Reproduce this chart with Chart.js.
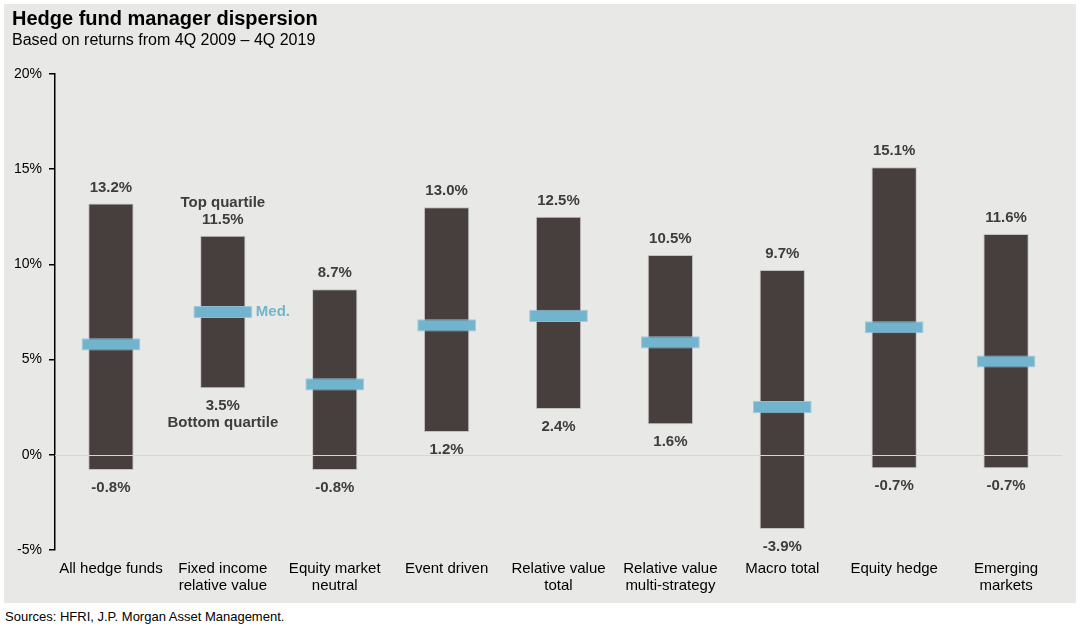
<!DOCTYPE html>
<html>
<head>
<meta charset="utf-8">
<script src="https://cdn.jsdelivr.net/npm/chart.js@4"></script>
<style>
  html, body { margin: 0; padding: 0; background: #fff; }
  body { width: 1080px; height: 629px; position: relative; font-family: "Liberation Sans", Arial, sans-serif; }
  #panel { position: absolute; left: 4px; top: 4px; width: 1072px; height: 599px; background: #e8e8e6; }
  #title { position: absolute; left: 8px; top: 3px; font-size: 20px; font-weight: bold; color: #000; }
  #subtitle { position: absolute; left: 8px; top: 27px; font-size: 16px; color: #000; }
  #src { position: absolute; left: 5px; top: 609px; font-size: 13px; color: #000; }
  canvas { position: absolute; left: 0; top: 0; }
</style>
</head>
<body>
<div id="panel">
  <canvas id="myChart" width="1072" height="599"></canvas>
  <div id="title">Hedge fund manager dispersion</div>
  <div id="subtitle">Based on returns from 4Q 2009 – 4Q 2019</div>
</div>
<div id="src">Sources: HFRI, J.P. Morgan Asset Management.</div>
<script>
const categories = [
  ['All hedge funds'],
  ['Fixed income', 'relative value'],
  ['Equity market', 'neutral'],
  ['Event driven'],
  ['Relative value', 'total'],
  ['Relative value', 'multi-strategy'],
  ['Macro total'],
  ['Equity hedge'],
  ['Emerging', 'markets']
]
const topQuartile = [13.2, 11.5, 8.7, 13.0, 12.5, 10.5, 9.7, 15.1, 11.6]
const bottomQuartile = [-0.8, 3.5, -0.8, 1.2, 2.4, 1.6, -3.9, -0.7, -0.7]
const median = [5.8, 7.5, 3.7, 6.8, 7.3, 5.9, 2.5, 6.7, 4.9]
const yTicks = [-5, 0, 5, 10, 15, 20]

const BAR = '#473f3e'
const MED = '#72b4cd'
const LABEL = '#3d3d3d'
const MED_HALF = 0.32

var ctx = document.getElementById('myChart').getContext('2d');

const labelsPlugin = {
  id: 'labels',
  afterDatasetsDraw(chart) {
    const c = chart.ctx
    const y = chart.scales.y
    // zero line over the bars
    c.save()
    c.strokeStyle = '#d6d6d4'
    c.lineWidth = 1
    const y0 = Math.round(y.getPixelForValue(0)) + 0.5
    c.beginPath()
    c.moveTo(chart.chartArea.left, y0)
    c.lineTo(chart.chartArea.right, y0)
    c.stroke()
    c.restore()
  },
  afterDraw(chart) {
    const c = chart.ctx
    const x = chart.scales.x
    const y = chart.scales.y
    c.save()
    c.font = 'bold 15px "Liberation Sans", Arial, sans-serif'
    c.fillStyle = LABEL
    c.textAlign = 'center'
    c.textBaseline = 'middle'
    topQuartile.forEach((v, i) => {
      const px = x.getPixelForValue(i)
      c.fillText(v.toFixed(1) + '%', px, y.getPixelForValue(v) - 16)
      c.fillText(bottomQuartile[i].toFixed(1) + '%', px, y.getPixelForValue(bottomQuartile[i]) + 18)
    })
    // annotations on the fixed income bar
    const fx = x.getPixelForValue(1)
    c.fillText('Top quartile', fx, y.getPixelForValue(topQuartile[1]) - 33)
    c.fillText('Bottom quartile', fx, y.getPixelForValue(bottomQuartile[1]) + 35)
    c.fillStyle = MED
    c.textAlign = 'left'
    c.fillText('Med.', fx + 33, y.getPixelForValue(median[1]))
    c.restore()
  }
}

new Chart(ctx, {
  type: 'bar',
  data: {
    labels: categories,
    datasets: [{
      label: 'Median',
      data: median.map(m => [m - MED_HALF, m + MED_HALF]),
      backgroundColor: MED,
      borderColor: 'rgba(150,200,220,0.9)',
      borderWidth: 1,
      borderSkipped: false,
      grouped: false,
      barPercentage: 0.525,
      categoryPercentage: 1,
      order: 0
    },
    {
      label: 'Quartile range',
      data: topQuartile.map((t, i) => [bottomQuartile[i], t]),
      backgroundColor: BAR,
      borderColor: '#c4c2c0',
      borderWidth: 1,
      borderSkipped: false,
      grouped: false,
      barPercentage: 0.405,
      categoryPercentage: 1,
      order: 1
    }]
  },
  options: {
    responsive: false,
    animation: false,
    devicePixelRatio: 1,
    layout: { padding: { top: 70, right: 14, left: 0, bottom: 0 } },
    plugins: {
      legend: { display: false },
      tooltip: { enabled: false }
    },
    scales: {
      x: {
        grid: { display: false, drawTicks: false },
        border: { display: false },
        ticks: {
          padding: 10,
          color: '#000',
          font: { family: '"Liberation Sans", Arial, sans-serif', size: 15, lineHeight: 1.15 },
          maxRotation: 0,
          autoSkip: false
        },
        afterFit(scale) { scale.height = 53 }
      },
      y: {
        min: -5,
        max: 20,
        afterBuildTicks(scale) { scale.ticks = yTicks.map(v => ({ value: v })) },
        grid: { drawOnChartArea: false, drawTicks: true, tickLength: 6, color: '#000', lineWidth: 1.5 },
        border: { display: true, color: '#000', width: 1.5 },
        ticks: {
          padding: 7,
          color: '#000',
          font: { family: '"Liberation Sans", Arial, sans-serif', size: 14 },
          callback(value) {
            return value + '%'
          }
        },
        afterFit(scale) { scale.width = 51 }
      }
    }
  },
  plugins: [labelsPlugin]
});
</script>
</body>
</html>
